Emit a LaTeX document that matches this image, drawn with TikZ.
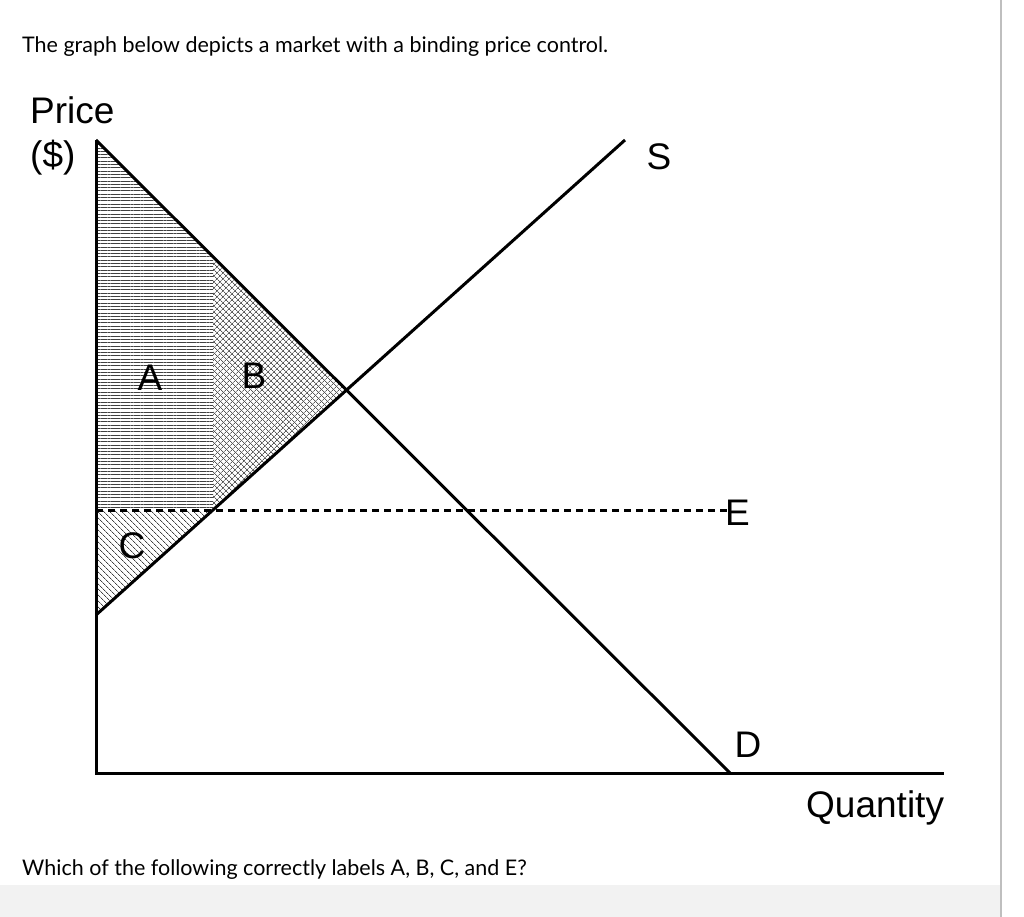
\documentclass[tikz,border=0pt]{standalone}
\usepackage{fontspec}
\setmainfont{Lato}
\newfontfamily\arial{Liberation Sans}
\usetikzlibrary{patterns.meta}
\begin{document}
\begin{tikzpicture}[x=1pt,y=-1pt,
  curve/.style={line width=3pt},
  lbl/.style={font=\arial\fontsize{37}{37}\selectfont,inner sep=0pt},
  txt/.style={font=\fontsize{21.5}{24}\selectfont,anchor=west,inner sep=0pt}]
\useasboundingbox (0,0) rectangle (1024,917);
\fill[gray!10] (0,885) rectangle (1000,917);
\draw[gray!50,line width=1.5pt] (1001,0) -- (1001,917);
\coordinate (O) at (96,773);
\coordinate (Top) at (96,140);
\coordinate (Xend) at (944,773);
\coordinate (Dend) at (730,773);
\coordinate (Sbot) at (96,615);
\coordinate (Stop) at (625,140);
\coordinate (Eq) at (346,390);
\coordinate (P1) at (213,510);
\coordinate (F0) at (96,510);
\coordinate (Fend) at (728,510);
% shaded areas
\fill[pattern={Lines[angle=0,distance=3.3pt,line width=1pt]},pattern color=black!75] (96,140) -- (213,257) -- (213,510) -- (96,510) -- cycle;
\fill[pattern={Lines[angle=45,distance=4pt,line width=0.7pt]},pattern color=black!65] (213,257) -- (Eq) -- (P1) -- cycle;
\fill[pattern={Lines[angle=-45,distance=4pt,line width=0.7pt]},pattern color=black!65] (213,257) -- (Eq) -- (P1) -- cycle;
\fill[pattern={Lines[angle=-45,distance=4pt,line width=0.8pt]},pattern color=black!75] (F0) -- (P1) -- (Sbot) -- cycle;
\draw[line width=3pt,dash pattern=on 7pt off 5pt] (F0) -- (Fend);
\draw[curve] (Top) -- (Dend);
\draw[curve] (Sbot) -- (Stop);
\draw[curve] (Top) -- (O) -- (Xend);
\node[lbl] (la) at (150,378) {A};
\node[lbl] (lb) at (254,376) {B};
\node[lbl] (lc) at (132,546) {C};
\node[lbl,anchor=west] (le) at (725,513) {E};
\node[lbl] (ld) at (748,745) {D};
\node[lbl] (ls) at (659,157) {S};
\node[lbl,anchor=west] (lq) at (806,808) {Quantity};
\node[lbl,anchor=west] (lp) at (30,110) {Price};
\node[lbl,anchor=west] (ld2) at (30,158) {(\$)};
\node[txt] (t1) at (22,47) {The graph below depicts a market with a binding price control.};
\node[txt] (t2) at (22,870) {Which of the following correctly labels A, B, C, and E?};
\end{tikzpicture}
\end{document}
